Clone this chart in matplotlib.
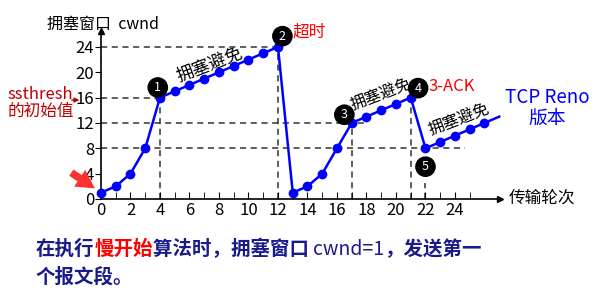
import matplotlib.pyplot as plt
from matplotlib.patches import FancyArrowPatch

plt.rcParams['font.family'] = ['Noto Sans CJK SC', 'DejaVu Sans']

# TCP Reno cwnd per transmission round
rounds = [0, 1, 2, 3, 4, 5, 6, 7, 8, 9, 10, 11, 12,
          13, 14, 15, 16, 17, 18, 19, 20, 21,
          22, 23, 24, 25, 26]
cwnd = [1, 2, 4, 8, 16, 17, 18, 19, 20, 21, 22, 23, 24,
        1, 2, 4, 8, 12, 13, 14, 15, 16,
        8, 9, 10, 11, 12]
tail_x = [26, 27]
tail_y = [12, 13]

xticks = list(range(0, 25, 2))
yticks = [0, 4, 8, 12, 16, 20, 24]

# dashed guide lines: (y, x_end) and (x, y_end)
hlines = [(24, 12), (16, 4), (12, 18), (8, 24.7)]
vlines = [(4, 16), (12, 24), (17, 12), (21, 16), (22, 2.6)]

# numbered markers
marks = [(1, 3.85, 17.6), (2, 12.3, 25.7), (3, 16.5, 13.3), (4, 21.5, 17.5), (5, 22, 5.1)]

# caption pieces (text, colour, weight)
line1 = [('在执行', '#1a1a8c', 'bold'), ('慢开始', '#ff0000', 'bold'),
         ('算法时，拥塞窗口 ', '#1a1a8c', 'bold'), ('cwnd=1', '#1a1a8c', 'normal'),
         ('，发送第一', '#1a1a8c', 'bold')]
line2 = '个报文段。'

fig = plt.figure(figsize=(6, 2.9), dpi=100)
ax = fig.add_axes([0.1683, 0.3138, 0.665, 0.579])
ax.set_xlim(0, 27.05)
ax.set_ylim(0, 26.5)
ax.patch.set_alpha(0)

for y, xe in hlines:
    ax.plot([0, xe], [y, y], ls=(0, (4, 3)), color='#333333', lw=1.1, zorder=1)
for x, ye in vlines:
    ax.plot([x, x], [0, ye], ls=(0, (4, 3)), color='#333333', lw=1.1, zorder=1)

ax.plot(rounds, cwnd, color='#0000ff', lw=1.8, marker='o', ms=6, zorder=3, clip_on=False)
ax.plot(tail_x, tail_y, color='#0000ff', lw=1.8, zorder=3, clip_on=False)

for n, x, y in marks:
    ax.text(x, y, str(n), color='white', fontsize=9, ha='center', va='center', zorder=5,
            bbox=dict(boxstyle='circle,pad=0.25', fc='black', ec='black'))

for sp in ['top', 'right']:
    ax.spines[sp].set_visible(False)
ax.spines['left'].set_linewidth(1.2)
ax.spines['bottom'].set_linewidth(1.2)
ax.plot(1, 0, '>k', ms=5, transform=ax.transAxes, clip_on=False)
ax.plot(0, 1, '^k', ms=5, transform=ax.transAxes, clip_on=False)

ax.set_xticks(xticks)
ax.set_xticks(range(0, 26), minor=True)
ax.set_yticks(yticks)
ax.tick_params(axis='x', which='both', direction='in', length=5, labelsize=12, pad=2)
ax.tick_params(axis='y', direction='out', length=4, labelsize=12, pad=1)

fig.text(0.078, 0.917, '拥塞窗口  cwnd', fontsize=11.5, ha='left', va='center')
fig.text(0.847, 0.318, '传输轮次', fontsize=12, ha='left', va='center')

ax.text(7.4, 21.2, '拥塞避免', fontsize=12.5, rotation=21, ha='center', va='center')
ax.text(19.0, 16.4, '拥塞避免', fontsize=11.5, rotation=21, ha='center', va='center')
ax.text(24.3, 12.5, '拥塞避免', fontsize=11.5, rotation=21, ha='center', va='center')

ax.text(13.0, 26.3, '超时', color='#ff0000', fontsize=12, ha='left', va='center')
ax.text(22.2, 17.8, '3-ACK', color='#ff0000', fontsize=12, ha='left', va='center')
fig.text(0.912, 0.628, 'TCP Reno\n版本', color='#0000ff', fontsize=13.5, ha='center', va='center',
         linespacing=1.0)

fig.text(0.013, 0.645, 'ssthresh\n的初始值', color='#c00000', fontsize=12, ha='left', va='center',
         linespacing=1.0)
fig.add_artist(FancyArrowPatch((0.115, 0.655), (0.137, 0.655), transform=fig.transFigure,
                               arrowstyle='-|>', mutation_scale=7, color='#c00000', lw=1))
fig.add_artist(FancyArrowPatch((0.115, 0.41), (0.162, 0.345), transform=fig.transFigure,
                               arrowstyle='simple,head_width=1.2,head_length=1.1,tail_width=0.45',
                               mutation_scale=12, color='#ff3030', lw=0))

# caption: place coloured pieces one after another
r = fig.canvas.get_renderer()
x = 0.06
for s, c, w in line1:
    t = fig.text(x, 0.141, s, color=c, fontsize=14, fontweight=w, ha='left', va='center')
    x += t.get_window_extent(renderer=r).width / fig.bbox.width
fig.text(0.06, 0.045, line2, color='#1a1a8c', fontsize=14, fontweight='bold', ha='left', va='center')

fig.savefig('out.png', dpi=100)
